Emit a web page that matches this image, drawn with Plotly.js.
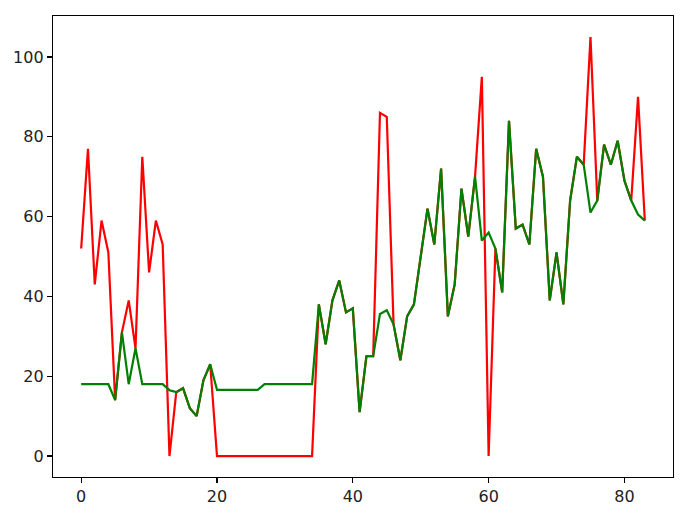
<!DOCTYPE html>
<html>
<head>
<meta charset="utf-8">
<script src="https://cdn.plot.ly/plotly-3.0.1.min.js"></script>
<style>html,body{margin:0;padding:0;background:#fff;}#chart{width:689px;height:514px;}</style>
</head>
<body>
<div id="chart"></div>
<script>
const redValues = [52,77,43,59,51,14,31,39,27,75,46,59,53,0,16,17,12,10,19,23,
  0,0,0,0,0,0,0,0,0,0,0,0,0,0,0,38,28,39,44,36,
  37,11,25,25,86,85,33,24,35,38,50,62,53,72,35,43,67,55,70,95,
  0,52,41,84,57,58,53,77,70,39,51,38,64,75,73,105,64,78,73,79,
  69,64,90,59];
const greenValues = [18,18,18,18,18,14,31,18,27,18,18,18,18,16.5,16,17,12,10,19,23,
  16.6,16.6,16.6,16.6,16.6,16.6,16.6,18,18,18,18,18,18,18,18,38,28,39,44,36,
  37,11,25,25,35.6,36.5,33,24,35,38,50,62,53,72,35,43,67,55,70,54,
  56,52,41,84,57,58,53,77,70,39,51,38,64,75,73,61,64,78,73,79,
  69,64,60.5,59];
const xIndex = redValues.map((_, i) => i);
const xTicks = [0,20,40,60,80];
const yTicks = [0,20,40,60,80,100];

const traces = [
  {x: xIndex, y: redValues, type: 'scatter', mode: 'lines',
   line: {color: '#ff0000', width: 2.2}, hoverinfo: 'skip'},
  {x: xIndex, y: greenValues, type: 'scatter', mode: 'lines',
   line: {color: '#008000', width: 2.2}, hoverinfo: 'skip'}
];

const axisCommon = {
  showgrid: false, zeroline: false, showline: true, mirror: true,
  linecolor: '#000', linewidth: 1.2, ticks: 'outside', ticklen: 5,
  tickwidth: 1.2, tickcolor: '#000',
  tickfont: {family: 'DejaVu Sans', size: 16, color: '#222'}
};

const layout = {
  width: 689, height: 514,
  margin: {l: 53, r: 16, t: 16, b: 37},
  showlegend: false,
  paper_bgcolor: '#fff', plot_bgcolor: '#fff',
  xaxis: Object.assign({}, axisCommon, {range: [-4.15, 87.15], tickvals: xTicks, ticktext: xTicks.map(String)}),
  yaxis: Object.assign({}, axisCommon, {range: [-5.25, 110.25], tickvals: yTicks, ticktext: yTicks.map(String)})
};

Plotly.newPlot('chart', traces, layout, {displayModeBar: false, staticPlot: true});
</script>
</body>
</html>
